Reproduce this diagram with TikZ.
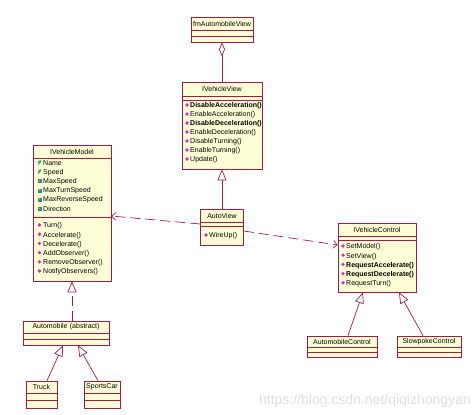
\documentclass[tikz,border=0pt]{standalone}
\usepackage{fontspec}
\setmainfont{Liberation Sans}
\usepackage{tikz}
\usetikzlibrary{arrows.meta}
\definecolor{umlred}{RGB}{160,30,70}
\definecolor{umlfill}{RGB}{255,255,215}
\definecolor{opcol}{RGB}{200,50,200}
\definecolor{attcol}{RGB}{40,140,150}
\newcommand{\umlfont}{\fontsize{7}{8}\selectfont}
\newcommand{\compline}[2]{\draw[umlline] (#1.west |- 0,#2) -- (#1.east |- 0,#2);}
\newcommand{\opicon}[2]{\fill[opcol] (#1-1.8,#2) -- (#1,#2-1.8) -- (#1+1.8,#2) -- (#1,#2+1.8) -- cycle;}

\begin{document}
\begin{tikzpicture}[x=1pt, y=-1pt,
  classbox/.style={draw=umlred, fill=umlfill, line width=0.7pt, inner sep=0pt},
  title/.style={inner sep=0pt, font=\umlfont},
  member/.style={anchor=west, inner sep=0pt, font=\umlfont},
  umlline/.style={draw=umlred, line width=0.7pt},
  inherit/.style={umlline, -{Triangle[open, length=11pt, width=9pt]}},
  realize/.style={inherit, dash pattern=on 10pt off 5pt},
  aggreg/.style={umlline, {Diamond[open, length=14pt, width=6pt]}-},
  depend/.style={umlline, dash pattern=on 10pt off 5pt, -{Straight Barb[length=4pt, width=8pt]}}]
\useasboundingbox (0,0) rectangle (474,415);

% class boxes
\node[classbox, minimum width=62, minimum height=25] (fm) at (222,29.5) {};
\node[classbox, minimum width=80, minimum height=87] (ivview) at (222,125.5) {};
\node[classbox, minimum width=43, minimum height=36] (autoview) at (222,227) {};
\node[classbox, minimum width=78, minimum height=136] (ivmodel) at (72,213) {};
\node[classbox, minimum width=78, minimum height=69] (ivcontrol) at (377,257.5) {};
\node[classbox, minimum width=86, minimum height=24] (automobile) at (66,333) {};
\node[classbox, minimum width=31, minimum height=27] (truck) at (41.5,394.5) {};
\node[classbox, minimum width=36, minimum height=27] (sportscar) at (102,394.5) {};
\node[classbox, minimum width=70, minimum height=21] (autoctrl) at (342,346.5) {};
\node[classbox, minimum width=64, minimum height=21] (slowctrl) at (429,346.5) {};

% compartments
\compline{fm}{30} \compline{fm}{36}
\compline{ivview}{96} \compline{ivview}{100}
\compline{autoview}{222} \compline{autoview}{226}
\compline{ivmodel}{158} \compline{ivmodel}{217}
\compline{ivcontrol}{236} \compline{ivcontrol}{240}
\compline{automobile}{333} \compline{automobile}{339}
\compline{truck}{393} \compline{truck}{400}
\compline{sportscar}{393} \compline{sportscar}{400}
\compline{autoctrl}{347} \compline{autoctrl}{352}
\compline{slowctrl}{347} \compline{slowctrl}{352}

% class names
\node[title] (fmname) at (222,23.5) {fmAutomobileView};
\node[title] (ivviewname) at (222,89) {IVehicleView};
\node[title] (autoviewname) at (222,215.5) {AutoView};
\node[title] (ivmodelname) at (72,151.5) {IVehicleModel};
\node[title] (ivcontrolname) at (377,229.5) {IVehicleControl};
\node[title] (automobilename) at (66,327) {Automobile\,\,(abstract)};
\node[title] (truckname) at (41.5,387) {Truck};
\node[title] (sportscarname) at (102,387) {SportsCar};
\node[title] (autoctrlname) at (342,341.5) {AutomobileControl};
\node[title] (slowctrlname) at (429,341.5) {SlowpokeControl};

% members
\foreach \t [count=\i from 0] in {\textbf{DisableAcceleration()}, EnableAcceleration(),
  \textbf{DisableDeceleration()}, EnableDeceleration(), DisableTurning(), EnableTurning(), Update()} {
  \opicon{187}{105+9*\i}
  \node[member] (ivviewop\i) at (190,106+9*\i) {\t};
}
\opicon{206}{235}
\node[member] (autoviewop) at (209,236) {WireUp()};
\foreach \t [count=\i from 0] in {Name, Speed} {
  \fill[attcol!70!green] (39.5,162+9.2*\i) circle (1.6);
  \draw[attcol!70!green, line width=0.6pt] (38,165+9.2*\i) -- (41,160+9.2*\i);
  \node[member] (ivmodelatt\i) at (43,163+9.2*\i) {\t};
}
\foreach \t [count=\i from 2] in {MaxSpeed, MaxTurnSpeed, MaxReverseSpeed, Direction} {
  \fill[attcol] (37.5,161+9.2*\i) rectangle (41.5,165+9.2*\i);
  \fill[orange!80!yellow] (39.5,162.5+9.2*\i) circle (0.9);
  \node[member] (ivmodelatt\i) at (43,163+9.2*\i) {\t};
}
\foreach \t [count=\i from 0] in {Turn(), Accelerate(), Decelerate(), AddObserver(),
  RemoveObserver(), NotifyObservers()} {
  \opicon{39.5}{225+9.2*\i}
  \node[member] (ivmodelop\i) at (43,226+9.2*\i) {\t};
}
\foreach \t [count=\i from 0] in {SetModel(), SetView(), \textbf{RequestAccelerate()},
  \textbf{RequestDecelerate()}, RequestTurn()} {
  \opicon{343}{246+9.2*\i}
  \node[member] (ivcontrolop\i) at (346,247+9.2*\i) {\t};
}

% connectors
\draw[aggreg] (fm.south) -- (ivview.north);
\draw[inherit] (autoview.north) -- (ivview.south);
\draw[realize] (automobile.north -| ivmodel.south) -- (ivmodel.south);
\draw[inherit] (truck.north -| 47,0) -- (automobile.south -| 63,0);
\draw[inherit] (sportscar.north -| 98,0) -- (automobile.south -| 78,0);
\draw[inherit] (autoctrl.north -| 348,0) -- (ivcontrol.south -| 363,0);
\draw[inherit] (slowctrl.north -| 423,0) -- (ivcontrol.south -| 399,0);
\draw[depend] (autoview.west |- 0,224) -- (ivmodel.east |- 0,216);
\draw[depend] (autoview.east |- 0,231) -- (ivcontrol.west |- 0,245);

\node[anchor=east, inner sep=0pt, text=gray!25, font=\fontsize{14}{15}\selectfont] (wmark) at (471,401) {https://blog.csdn.net/qiqizhongyan};
\end{tikzpicture}
\end{document}
